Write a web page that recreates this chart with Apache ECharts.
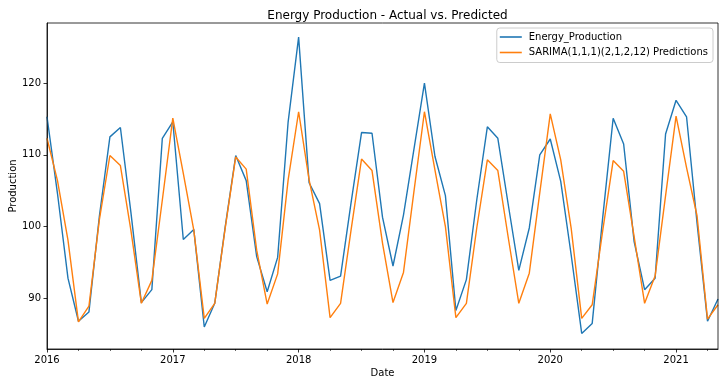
<!DOCTYPE html>
<html>
<head>
<meta charset="utf-8">
<script src="https://cdn.jsdelivr.net/npm/echarts@6/dist/echarts.min.js"></script>
<style>html,body{margin:0;padding:0;background:#fff}#c{width:724px;height:387px}</style>
</head>
<body>
<div id="c"></div>
<script>
// Monthly dates, 2016-01 .. 2021-05
const startYear = 2016;
const months = [];
for (let i = 0; i < 65; i++) {
  const y = startYear + Math.floor(i / 12), m = (i % 12) + 1;
  months.push(y + '-' + (m < 10 ? '0' + m : m));
}
const actual = [
  115.3, 104.6, 92.8, 86.8, 88.1, 101.5, 112.5, 113.8, 102.0, 89.4, 91.2, 112.3,
  114.6, 98.2, 99.6, 86.0, 89.3, 100.0, 109.9, 106.4, 95.8, 90.9, 95.7, 114.6,
  126.4, 106.1, 103.2, 92.5, 93.1, 103.3, 113.1, 113.0, 101.3, 94.5, 101.6, 110.8,
  120.0, 109.8, 104.3, 88.3, 92.6, 103.8, 113.9, 112.3, 103.0, 93.9, 99.8, 110.0,
  112.2, 106.3, 96.0, 85.1, 86.5, 101.2, 115.1, 111.5, 97.9, 91.2, 92.8, 112.9,
  117.6, 115.3, 100.5, 86.8, 89.9
];
const predicted = [
  112.3, 106.4, 98.1, 86.7, 88.9, 101.0, 109.9, 108.5, 99.5, 89.3, 92.5, 103.7,
  115.1, 107.4, 99.5, 87.2, 89.3, 99.8, 109.7, 108.0, 96.7, 89.2, 93.4, 106.5,
  116.0, 106.5, 99.5, 87.3, 89.3, 99.5, 109.4, 107.8, 97.7, 89.4, 93.6, 104.9,
  116.0, 107.9, 100.0, 87.3, 89.3, 99.9, 109.3, 107.8, 98.4, 89.3, 93.5, 104.7,
  115.7, 109.3, 99.7, 87.2, 89.1, 99.4, 109.2, 107.7, 98.6, 89.3, 93.1, 104.3,
  115.4, 108.2, 101.5, 87.1, 89.1
];
const yearTicks = [2016, 2017, 2018, 2019, 2020, 2021];
const yTicks = [90, 100, 110, 120];
const seriesNames = ['Energy_Production', 'SARIMA(1,1,1)(2,1,2,12) Predictions'];

function toYearFrac(s) {
  const p = s.split('-');
  return +p[0] + (+p[1] - 1) / 12;
}
const xMin = toYearFrac(months[0]);
const xMax = toYearFrac(months[months.length - 1]);
const quarterTicks = [];
for (let y = 2016; y <= 2021; y++) for (let q = 1; q < 4; q++) {
  const v = y + q * 3 / 12;
  if (v <= xMax) quarterTicks.push(v);
}
const font = 'DejaVu Sans';

const chart = echarts.init(document.getElementById('c'), null, {renderer: 'canvas'});
chart.setOption({
  animation: false,
  backgroundColor: '#ffffff',
  title: {
    text: 'Energy Production - Actual vs. Predicted',
    left: 382.5, top: 5, textAlign: 'center',
    textStyle: {fontFamily: font, fontSize: 12, fontWeight: 'normal', color: '#000'}
  },
  legend: {
    orient: 'vertical', right: 11, top: 28,
    padding: [4, 5, 5, 3],
    icon: 'rect',
    itemWidth: 22, itemHeight: 1.6, itemGap: 5.5,
    borderColor: '#cccccc', borderWidth: 1, borderRadius: 3,
    backgroundColor: 'rgba(255,255,255,0.8)',
    textStyle: {fontFamily: font, fontSize: 10, color: '#000', padding: [0, 0, 0, 2]},
    data: seriesNames
  },
  grid: {left: 47, right: 6, top: 23, bottom: 38, containLabel: false, outerBoundsMode: 'none'},
  xAxis: [{
    type: 'value', min: xMin, max: xMax,
    name: 'Date', nameLocation: 'middle', nameGap: 19, nameMoveOverlap: false,
    nameTextStyle: {fontFamily: font, fontSize: 10, color: '#000'},
    axisLine: {lineStyle: {color: '#000', width: 0.8}},
    axisTick: {show: true, length: 3.5, customValues: yearTicks, lineStyle: {color: '#000', width: 0.8}},
    axisLabel: {customValues: yearTicks, margin: 6, fontFamily: font, fontSize: 10, color: '#000',
      formatter: v => String(Math.round(v))},
    splitLine: {show: false}
  }, {
    type: 'value', min: xMin, max: xMax, position: 'bottom',
    axisLine: {show: false},
    axisTick: {show: true, length: 2, customValues: quarterTicks, lineStyle: {color: '#000', width: 0.6}},
    axisLabel: {show: false, customValues: quarterTicks},
    splitLine: {show: false}
  }],
  yAxis: {
    type: 'value', min: 82.93, max: 128.37,
    name: 'Production', nameLocation: 'middle', nameGap: 29, nameMoveOverlap: false,
    nameTextStyle: {fontFamily: font, fontSize: 10, color: '#000'},
    axisLine: {show: true, lineStyle: {color: '#000', width: 0.8}},
    axisTick: {show: true, length: 3.5, customValues: yTicks, lineStyle: {color: '#000', width: 0.8}},
    axisLabel: {customValues: yTicks, margin: 6, fontFamily: font, fontSize: 10, color: '#000'},
    splitLine: {show: false}
  },
  series: [{
    name: seriesNames[0], type: 'line', xAxisIndex: 0, symbol: 'none',
    lineStyle: {color: '#1f77b4', width: 1.4}, itemStyle: {color: '#1f77b4'},
    data: months.map((m, i) => [toYearFrac(m), actual[i]])
  }, {
    name: seriesNames[1], type: 'line', xAxisIndex: 0, symbol: 'none',
    lineStyle: {color: '#ff7f0e', width: 1.4}, itemStyle: {color: '#ff7f0e'},
    data: months.map((m, i) => [toYearFrac(m), predicted[i]])
  }],
  graphic: [{
    type: 'rect', silent: true, z: 100,
    shape: {x: 47, y: 23, width: 671, height: 326},
    style: {fill: 'none', stroke: '#000', lineWidth: 0.8}
  }]
});
</script>
</body>
</html>
